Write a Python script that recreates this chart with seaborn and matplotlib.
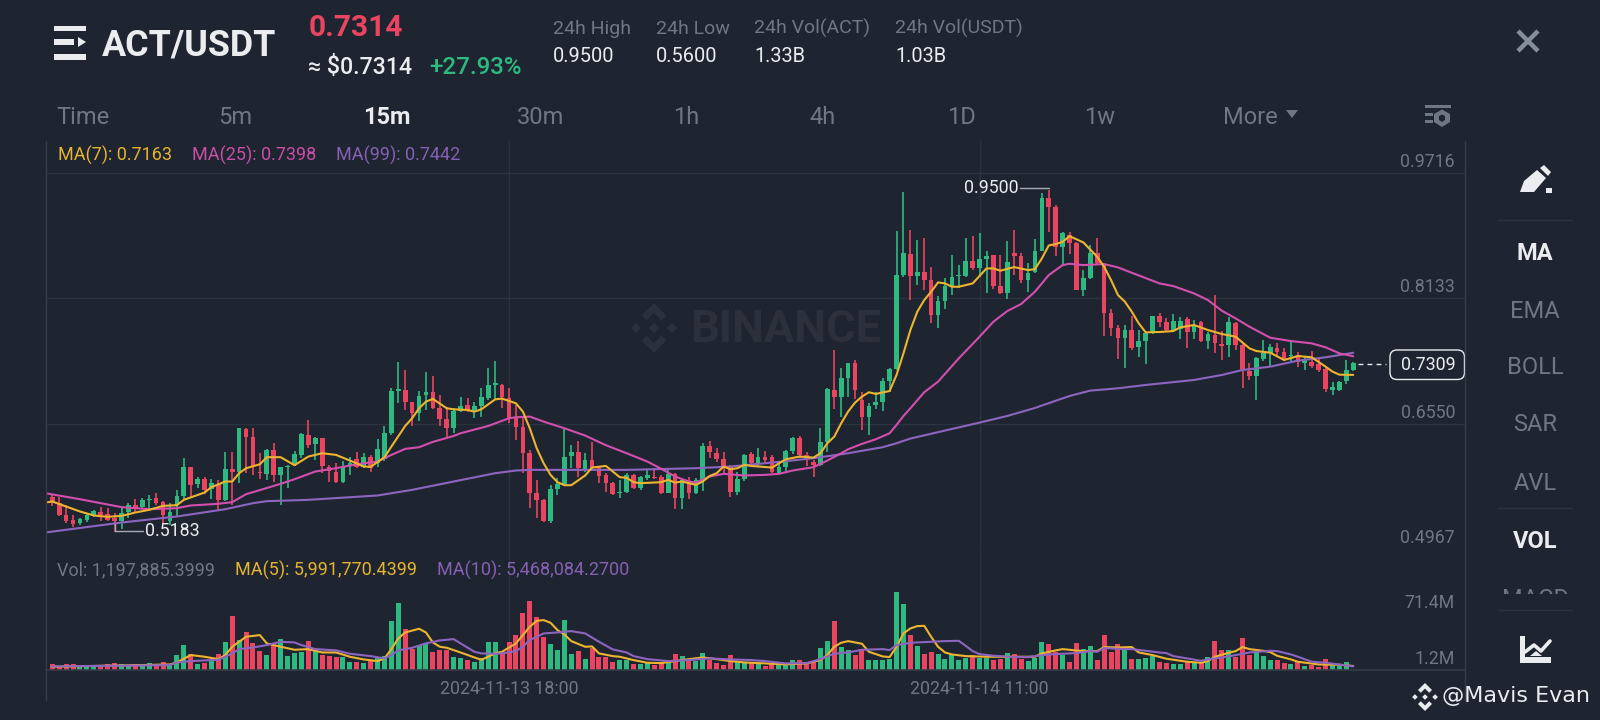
import numpy as np
import pandas as pd
import matplotlib
matplotlib.use("Agg")
import matplotlib.pyplot as plt
import seaborn as sns
from matplotlib.patches import Polygon, Rectangle, FancyBboxPatch

# Candles, 15m
sides = ("RRRRGGGRRR" "GGRGGRRGGG" "RGRGRGRGRR" "RGRGGGGRGR" "RRGGRGRGGG"
         "GRRGGRRRGG" "RGGGGRRRRR" "RRGGGGRGRR" "RRGGRGGRRG" "RGRGGRRRRG"
         "GRGRRGGGRR" "RGGRGGRRGG" "GGGGRGRRGG" "GGGRGGRRGR" "RGGGRRGRRG"
         "GRRRRGRGGG" "RRGGRGRGRR" "GRRRGGGRRG" "RGRRRGGGG")

high_p = [
    .5663, .5629, .5524, .5398, .5356, .5419, .5461, .5495, .5482, .5419,
    .5482, .5545, .5600, .5616, .5650, .5679, .5574, .5545, .5713, .6120,
    .6007, .5881, .5881, .5847, .5839, .6196, .6196, .6498, .6490, .6498,
    .6175, .6230, .6309, .6007, .6028, .6204, .6435, .6595, .6385, .6372,
    .6028, .6057, .6078, .6133, .6192, .6183, .6154, .6356, .6519, .7002,
    .7330, .7225, .6826, .6965, .7196, .7149, .6910, .6763, .6742, .6881,
    .6868, .6826, .6994, .7246, .7343, .7049, .6994, .6784, .6637, .6217,
    .5839, .5595, .5776, .5860, .6490, .6280, .6330, .6175, .6322, .6015,
    .5923, .5818, .5839, .5923, .5915, .5889, .5965, .5986, .5902, .5965,
    .5923, .5847, .5881, .5860, .6301, .6330, .6238, .6196, .6028, .5936,
    .6167, .6196, .6246, .6209, .6154, .6041, .6217, .6385, .6398, .6196,
    .6091, .6498, .6994, .7477, .7246, .7309, .7351, .6952, .6805, .6952,
    .7128, .7246, .8979, .9467, .8992, .8866, .8887, .8522, .8160, .8391,
    .8677, .8551, .8887, .8916, .8950, .8727, .8677, .8677, .8853, .8992,
    .8698, .8572, .8874, .9454, .9500, .9307, .8971, .8971, .8845, .8488,
    .8803, .8887, .8570, .7995, .7793, .7793, .7911, .7730, .7709, .7911,
    .7948, .7877, .7932, .7898, .7898, .7856, .7848, .7709, .8171, .7722,
    .7890, .7835, .7562, .7310, .7386, .7604, .7554, .7562, .7499, .7583,
    .7449, .7402, .7465, .7373, .7247, .7079, .7087, .7352, .7323]

body_top = [
    .5621, .5545, .5398, .5331, .5348, .5390, .5444, .5440, .5406, .5364,
    .5419, .5524, .5516, .5587, .5595, .5604, .5558, .5440, .5637, .6007,
    .6007, .5856, .5847, .5797, .5789, .5973, .5973, .6490, .6486, .6385,
    .5944, .6217, .6217, .6007, .6015, .6167, .6414, .6406, .6372, .6364,
    .6007, .5944, .6007, .6057, .6099, .6133, .6125, .6225, .6427, .6960,
    .6986, .6973, .6818, .6897, .6948, .6944, .6742, .6603, .6708, .6771,
    .6784, .6776, .6881, .7036, .7057, .7036, .6868, .6616, .6503, .6183,
    .5671, .5587, .5726, .5784, .6133, .6188, .6192, .6091, .6091, .5986,
    .5902, .5801, .5692, .5902, .5906, .5881, .5902, .5881, .5881, .5915,
    .5910, .5839, .5797, .5839, .6272, .6267, .6183, .6099, .6007, .5852,
    .6154, .6162, .6125, .6133, .6125, .5999, .6209, .6372, .6364, .6154,
    .6070, .6322, .6981, .6973, .7128, .7309, .7317, .6847, .6776, .6826,
    .7086, .7238, .8417, .8698, .8690, .8463, .8463, .8354, .8089, .8286,
    .8396, .8421, .8606, .8606, .8631, .8664, .8673, .8286, .8585, .8698,
    .8664, .8454, .8732, .9391, .9391, .9286, .8958, .8929, .8824, .8383,
    .8698, .8698, .8549, .7940, .7751, .7730, .7730, .7591, .7688, .7906,
    .7906, .7835, .7848, .7848, .7869, .7793, .7835, .7675, .7667, .7554,
    .7827, .7822, .7541, .7213, .7373, .7436, .7512, .7499, .7457, .7415,
    .7415, .7352, .7331, .7302, .7234, .7008, .7079, .7226, .7309]

body_bottom = [
    .5553, .5398, .5314, .5285, .5301, .5335, .5377, .5398, .5335, .5314,
    .5322, .5440, .5474, .5503, .5579, .5545, .5398, .5314, .5516, .5637,
    .5768, .5789, .5713, .5721, .5587, .5587, .5944, .5944, .6385, .6015,
    .5923, .5915, .5906, .5902, .5999, .6028, .6154, .6280, .6288, .6015,
    .5952, .5818, .5818, .6015, .6007, .6007, .5986, .6049, .6099, .6427,
    .6965, .6818, .6687, .6687, .6906, .6742, .6608, .6490, .6498, .6708,
    .6721, .6721, .6771, .6868, .7036, .6881, .6616, .6503, .6183, .5671,
    .5587, .5314, .5314, .5721, .5784, .6141, .5986, .5973, .5986, .5889,
    .5805, .5658, .5671, .5684, .5734, .5734, .5860, .5860, .5679, .5679,
    .5616, .5608, .5671, .5671, .5839, .6188, .6099, .6007, .5684, .5684,
    .5847, .6057, .6049, .6091, .5936, .5931, .5999, .6209, .6154, .6112,
    .6028, .6028, .6322, .6881, .6881, .7128, .6973, .6629, .6629, .6784,
    .6818, .7086, .7241, .8417, .8412, .8412, .8354, .7921, .7921, .8089,
    .8278, .8408, .8412, .8517, .8509, .8631, .8286, .8194, .8194, .8664,
    .8362, .8362, .8467, .8732, .9286, .8782, .8774, .8832, .8236, .8236,
    .8383, .8572, .7940, .7751, .7625, .7625, .7499, .7520, .7591, .7688,
    .7827, .7730, .7717, .7738, .7709, .7709, .7596, .7596, .7562, .7528,
    .7541, .7541, .7226, .7150, .7155, .7360, .7436, .7449, .7360, .7402,
    .7323, .7310, .7276, .7226, .6987, .6974, .6974, .7087, .7226]

low_p = [
    .5511, .5377, .5293, .5243, .5272, .5306, .5369, .5314, .5314, .5183,
    .5222, .5364, .5440, .5474, .5482, .5516, .5293, .5272, .5377, .5595,
    .5629, .5742, .5663, .5600, .5461, .5574, .5524, .5805, .5923, .5902,
    .5847, .5839, .5818, .5516, .5742, .6015, .6120, .6246, .6091, .5923,
    .5818, .5805, .5797, .5902, .5994, .5986, .5944, .6007, .6083, .6406,
    .6805, .6721, .6519, .6582, .6721, .6734, .6519, .6364, .6427, .6700,
    .6700, .6616, .6629, .6847, .6847, .6742, .6553, .6343, .5923, .5490,
    .5356, .5306, .5301, .5650, .5776, .5986, .5873, .5944, .5965, .5805,
    .5684, .5650, .5608, .5679, .5726, .5705, .5839, .5847, .5663, .5671,
    .5474, .5469, .5600, .5663, .5700, .6112, .6070, .5910, .5629, .5642,
    .5826, .6028, .6007, .6070, .5923, .5915, .5944, .6162, .6112, .6015,
    .5873, .6015, .6196, .6734, .6629, .6881, .6855, .6469, .6406, .6734,
    .6708, .6952, .7228, .8404, .8110, .8299, .8228, .7816, .7753, .7997,
    .8173, .8257, .8404, .8488, .8404, .8194, .8249, .8186, .8123, .8425,
    .8320, .8207, .8454, .8727, .8971, .8664, .8551, .8690, .8228, .8160,
    .8375, .8551, .7659, .7659, .7365, .7247, .7478, .7394, .7297, .7680,
    .7772, .7717, .7701, .7612, .7499, .7612, .7583, .7491, .7436, .7352,
    .7394, .7478, .7003, .7100, .6848, .7339, .7268, .7386, .7344, .7344,
    .7268, .7226, .7255, .7205, .6953, .6911, .6966, .7045, .7213]

# Volume in millions
volume = [
    7.9, 6.2, 7.9, 7.9, 5.4, 5.0, 4.6, 6.2, 8.8, 9.2,
    7.9, 7.1, 7.9, 7.1, 9.2, 7.1, 10.4, 8.8, 19.7, 31.9,
    20.5, 7.9, 10.0, 12.1, 21.4, 35.6, 68.4, 38.2, 49.1, 34.4,
    24.7, 19.7, 32.3, 39.4, 18.4, 22.2, 23.0, 37.3, 24.7, 19.7,
    18.8, 16.7, 17.2, 10.4, 11.3, 10.0, 12.5, 15.5, 18.4, 62.9,
    85.6, 52.0, 27.2, 32.3, 34.4, 23.0, 26.4, 26.4, 17.2, 15.5,
    13.0, 10.4, 15.5, 35.6, 35.6, 21.8, 36.5, 44.9, 73.0, 87.7,
    67.6, 41.9, 33.1, 26.0, 64.2, 20.9, 24.7, 14.2, 28.9, 16.7,
    16.7, 11.3, 13.8, 13.8, 8.8, 7.9, 10.4, 7.1, 9.2, 12.1,
    20.5, 18.0, 14.2, 12.1, 22.6, 13.8, 9.6, 7.1, 19.3, 12.1,
    9.2, 11.3, 10.0, 6.2, 7.9, 7.1, 7.9, 13.8, 13.4, 10.4,
    10.4, 28.5, 36.9, 62.5, 29.3, 26.0, 19.7, 27.2, 13.8, 13.4,
    13.8, 14.6, 99.5, 84.0, 44.9, 31.4, 21.4, 23.0, 21.4, 14.2,
    19.7, 13.8, 16.3, 19.7, 15.5, 16.3, 13.8, 14.6, 22.6, 21.4,
    14.2, 12.1, 15.5, 36.5, 33.1, 23.0, 19.7, 11.3, 34.4, 26.8,
    31.4, 13.4, 44.5, 23.9, 33.5, 27.2, 14.6, 14.2, 16.3, 18.4,
    11.3, 9.2, 8.8, 8.3, 12.1, 10.4, 10.0, 16.7, 37.7, 25.6,
    26.0, 17.2, 41.1, 19.7, 23.0, 18.4, 13.4, 13.4, 9.2, 8.3,
    10.4, 6.2, 7.1, 5.0, 14.2, 8.3, 5.8, 11.3, 1.2]

# Moving averages, read at the candles where the curve turns
ma7_idx = [0, 1, 3, 5, 7, 9, 11, 13, 15, 17, 19, 20, 23, 24, 26, 27, 28, 29, 31, 32,
           34, 36, 38, 40, 42, 44, 46, 47, 49, 50, 52, 53, 54, 55, 56, 58, 59, 61, 62, 63,
           65, 66, 68, 69, 70, 71, 72, 73, 74, 75, 76, 78, 79, 81, 83, 84, 85, 86, 89, 90,
           91, 92, 94, 95, 96, 97, 98, 99, 100, 101, 102, 105, 107, 109, 111, 112, 113, 114, 115, 116,
           117, 118, 119, 120, 122, 123, 124, 125, 126, 127, 128, 129, 130, 131, 132, 134, 136, 137, 138, 140,
           142, 143, 144, 145, 146, 147, 148, 150, 152, 153, 154, 155, 156, 157, 158, 159, 161, 163, 164, 166,
           168, 170, 172, 174, 175, 177, 179, 181, 183, 185, 186, 187, 189]
ma7 = [.5553, .5566, .5503, .5440, .5390, .5373, .5385, .5427, .5461, .5511, .5520, .5587, .5679, .5747, .5818, .5818, .5923, .5986, .6036, .6125,
       .6125, .6024, .6133, .6175, .6154, .6083, .6007, .6003, .6125, .6259, .6519, .6616, .6742, .6826, .6860, .6742, .6729, .6721, .6700, .6729,
       .6855, .6864, .6805, .6700, .6490, .6238, .6049, .5902, .5810, .5772, .5772, .5894, .5994, .6015, .5873, .5864, .5810, .5797, .5810, .5839,
       .5805, .5818, .5776, .5818, .5889, .5923, .6007, .5973, .5986, .6028, .6015, .5994, .6099, .6133, .6120, .6175, .6301, .6385, .6553, .6700,
       .6813, .6889, .6944, .6923, .6960, .7162, .7435, .7729, .7960, .8107, .8212, .8330, .8317, .8275, .8275, .8317, .8506, .8506, .8477, .8523,
       .8485, .8498, .8632, .8796, .8813, .8842, .8913, .8834, .8653, .8527, .8359, .8170, .8086, .7960, .7813, .7700, .7704, .7716, .7763, .7792,
       .7729, .7679, .7645, .7498, .7464, .7443, .7351, .7401, .7385, .7267, .7204, .7166, .7163]

ma25_idx = [0, 5, 11, 15, 19, 21, 25, 27, 29, 34, 36, 39, 42, 45, 48, 50, 52, 54, 56, 59,
            60, 64, 67, 68, 70, 72, 75, 78, 81, 84, 87, 89, 91, 93, 94, 96, 98, 101, 104, 106,
            108, 111, 113, 115, 116, 118, 120, 122, 123, 124, 125, 127, 129, 132, 135, 137, 139, 141, 143, 145,
            147, 148, 150, 153, 155, 156, 161, 163, 166, 168, 170, 172, 174, 177, 180, 183, 185, 187, 189]
ma25 = [.5671, .5595, .5495, .5469, .5482, .5516, .5537, .5558, .5658, .5789, .5847, .5944, .5986, .6036, .6070, .6154, .6230, .6251, .6318, .6393,
        .6427, .6519, .6616, .6629, .6637, .6574, .6490, .6398, .6276, .6175, .6070, .5978, .5881, .5818, .5805, .5881, .5915, .5894, .5902, .5915,
        .5957, .5999, .6083, .6175, .6225, .6293, .6351, .6427, .6532, .6645, .6742, .6944, .7078, .7372, .7645, .7834, .7968, .8057, .8212, .8422,
        .8548, .8565, .8548, .8561, .8519, .8485, .8317, .8283, .8191, .8107, .7973, .7876, .7771, .7632, .7590, .7561, .7511, .7435, .7398]

ma99_idx = [0, 11, 19, 26, 30, 32, 38, 48, 53, 59, 65, 68, 70, 84, 94, 99, 106, 111, 116, 121,
            123, 125, 130, 135, 139, 143, 148, 151, 155, 159, 166, 170, 173, 177, 181, 185, 189]
ma99 = [.5175, .5301, .5377, .5469, .5545, .5570, .5587, .5642, .5713, .5818, .5923, .5957, .5965, .5965, .5986, .6007, .6066, .6112, .6175, .6251,
        .6301, .6360, .6461, .6561, .6645, .6746, .6897, .6965, .6994, .7036, .7099, .7162, .7225, .7267, .7343, .7385, .7442]

vol_ma5_idx = [1, 8, 14, 18, 19, 21, 23, 25, 26, 27, 29, 31, 32, 34, 36, 38, 40, 42, 44, 46,
               48, 49, 50, 51, 52, 54, 55, 56, 57, 58, 60, 62, 63, 64, 65, 66, 68, 70, 71, 72,
               73, 74, 75, 76, 78, 79, 80, 82, 83, 85, 87, 89, 91, 93, 95, 97, 99, 101, 104, 107,
               110, 112, 113, 114, 115, 116, 118, 119, 121, 122, 123, 124, 125, 126, 127, 128, 129, 130, 131, 133,
               136, 139, 141, 143, 144, 146, 147, 150, 152, 153, 155, 157, 158, 160, 162, 165, 167, 168, 169, 171,
               172, 173, 174, 176, 177, 178, 180, 181, 184, 187, 189]
vol_ma5 = [5.0, 6.2, 7.1, 7.9, 10.4, 19.7, 17.6, 14.6, 19.7, 30.2, 42.8, 44.9, 34.4, 30.2, 26.4, 27.2, 23.0, 23.0, 17.6, 14.2,
           12.1, 15.5, 27.2, 40.7, 48.2, 52.9, 48.2, 35.6, 30.2, 28.9, 23.0, 16.7, 13.8, 17.6, 21.8, 23.9, 34.4, 55.4, 62.9, 63.8,
           60.4, 51.2, 45.7, 37.3, 30.2, 30.6, 21.8, 18.4, 17.6, 13.4, 10.0, 9.6, 12.1, 14.6, 16.7, 14.6, 12.1, 10.4, 9.2, 7.9,
           9.2, 13.4, 19.7, 30.2, 35.2, 37.3, 34.0, 23.9, 18.0, 17.2, 30.2, 47.0, 53.3, 56.2, 56.6, 42.8, 30.2, 23.0, 20.5, 18.4,
           17.6, 17.6, 17.6, 17.6, 21.8, 25.6, 27.2, 24.7, 24.7, 29.8, 29.3, 29.8, 23.0, 19.7, 15.1, 11.3, 10.0, 12.1, 17.6, 22.6,
           24.7, 29.8, 27.2, 25.1, 23.5, 18.8, 14.2, 11.3, 7.9, 7.5, 6.0]

vol_ma10_idx = [1, 10, 18, 19, 21, 25, 26, 27, 28, 30, 32, 34, 36, 37, 39, 42, 44, 47, 49, 50,
                51, 53, 55, 57, 59, 60, 62, 63, 65, 66, 68, 69, 70, 72, 74, 76, 78, 80, 82, 84,
                85, 87, 90, 93, 96, 99, 102, 104, 107, 110, 112, 114, 116, 118, 121, 122, 123, 125, 128, 130,
                132, 133, 134, 135, 137, 140, 142, 143, 145, 147, 149, 151, 152, 153, 156, 157, 159, 161, 162, 163,
                165, 167, 168, 170, 172, 174, 177, 178, 180, 181, 183, 185, 189]
vol_ma10 = [5.4, 6.2, 7.1, 10.4, 12.1, 13.8, 17.6, 21.8, 27.2, 29.3, 32.3, 36.5, 35.6, 32.3, 27.2, 25.6, 21.4, 18.4, 15.5, 19.7,
            25.6, 28.9, 34.4, 38.2, 39.8, 34.4, 23.9, 21.8, 21.4, 21.8, 24.7, 30.2, 38.6, 47.0, 48.2, 49.9, 47.0, 36.5, 26.8, 23.0,
            18.4, 14.6, 12.1, 13.4, 15.5, 14.2, 13.4, 12.1, 9.2, 9.6, 14.6, 21.4, 23.0, 26.4, 27.2, 26.0, 32.3, 35.2, 36.5, 37.3,
            37.7, 31.4, 24.7, 20.9, 18.8, 17.2, 17.2, 18.4, 20.5, 21.4, 22.2, 24.7, 23.9, 28.5, 27.2, 27.2, 25.1, 23.0, 22.2, 18.4,
            15.5, 12.5, 14.2, 16.7, 19.7, 23.0, 25.1, 24.7, 20.5, 17.6, 11.3, 10.0, 5.5]

price_ticks = [0.9716, 0.8133, 0.6550, 0.4967]
volume_ticks = [71.4, 1.2]
date_ticks = [67, 135]
date_labels = ["2024-11-13 18:00", "2024-11-14 11:00"]
timeframes = ["Time", "5m", "15m", "30m", "1h", "4h", "1D", "1w", "More"]
stat_names = ["24h High", "24h Low", "24h Vol(ACT)", "24h Vol(USDT)"]
stat_values = ["0.9500", "0.5600", "1.33B", "1.03B"]
indicators = ["MA", "EMA", "BOLL", "SAR", "AVL", "VOL"]

BG = "#1E2530"
GRID = "#2B3240"
FRAME = "#363D4A"
GREY = "#707784"
WHITE = "#EAECEF"
RED = "#EA4560"
GREEN = "#2EB981"
YELLOW = "#EDB52F"
PINK = "#D34FAE"
PURPLE = "#8D65C0"

sns.set_theme(style="dark", rc={"figure.facecolor": BG, "axes.facecolor": BG, "savefig.facecolor": BG})
plt.rcParams["font.family"] = ["Roboto", "DejaVu Sans"]

W, H = 1600, 720
fig = plt.figure(figsize=(W / 100, H / 100), dpi=100)


def box(left, top, right, bottom):
    return [left / W, 1 - bottom / H, (right - left) / W, (bottom - top) / H]


ax = fig.add_axes(box(46, 141, 1465, 549))
ax_v = fig.add_axes(box(46, 549, 1465, 670), sharex=ax)

candles = pd.DataFrame({
    "idx": np.arange(1, len(high_p) + 1),
    "high": high_p, "low": low_p, "top": body_top, "bottom": body_bottom,
    "side": list(sides), "volume": volume,
})
colors = candles["side"].map({"R": RED, "G": GREEN})
palette = {"R": RED, "G": GREEN}

# price panel
ax.vlines(candles["idx"], candles["low"], candles["high"], colors=colors, lw=1.2, zorder=3)
ax.bar(candles["idx"], candles["top"] - candles["bottom"], bottom=candles["bottom"],
       width=0.68, color=colors, linewidth=0, zorder=3)
for idx, vals, color in [(ma99_idx, ma99, PURPLE), (ma25_idx, ma25, PINK), (ma7_idx, ma7, YELLOW)]:
    sns.lineplot(x=idx, y=vals, ax=ax, color=color, lw=1.5, estimator=None, sort=False, zorder=4)

# volume panel
sns.barplot(data=candles, x="idx", y="volume", hue="side", palette=palette, native_scale=True,
            dodge=False, width=0.72, legend=False, ax=ax_v, zorder=3, saturation=1, linewidth=0)
for idx, vals, color in [(vol_ma5_idx, vol_ma5, YELLOW), (vol_ma10_idx, vol_ma10, PURPLE)]:
    sns.lineplot(x=idx, y=vals, ax=ax_v, color=color, lw=1.5, estimator=None, sort=False, zorder=4)

ax.set_ylim(0.4967, 0.9716 + 31.5 * 0.0012614)
ax_v.set_ylim(0.9, 153.4)
x_left = 1 - 6.3 / 6.92
x_right = 1 + (1465 - 52.3) / 6.92
ax_v.set_xlim(x_left, x_right)

for a in (ax, ax_v):
    a.set_xlabel("")
    a.set_ylabel("")
    a.set_facecolor(BG)
    a.patch.set_alpha(0)
    for s in a.spines.values():
        s.set_visible(False)
    for d in date_ticks:
        a.axvline(d, color=GRID, lw=1, zorder=1)

ax.set_yticks(price_ticks)
ax.tick_params(left=False, bottom=False, labelleft=False, labelbottom=False)
ax.grid(axis="y", color=GRID, lw=1)
ax.grid(axis="x", visible=False)
ax_v.set_yticks([])
ax_v.grid(False)
ax_v.set_xticks(date_ticks)
ax_v.set_xticklabels(date_labels, color=GREY, fontsize=12.8)
ax_v.tick_params(axis="x", length=0, pad=7)

for p in price_ticks:
    ax.annotate(f"{p:.4f}", xy=(1, p), xycoords=ax.get_yaxis_transform(), xytext=(-7.2, 7.8),
                textcoords="offset points", ha="right", va="center", color=GREY, fontsize=12.8)
for v in volume_ticks:
    ax_v.annotate(f"{v}M", xy=(1, v), xycoords=ax_v.get_yaxis_transform(), xytext=(-7.2, 7.8),
                  textcoords="offset points", ha="right", va="center", color=GREY, fontsize=12.8)

# everything else sits on a full figure layer in pixel coordinates
ui = fig.add_axes([0, 0, 1, 1], zorder=10)
ui.set_xlim(0, W)
ui.set_ylim(H, 0)
ui.axis("off")


def label(x, y, s, color=GREY, size=12.8, weight="normal", ha="left", **kw):
    # va=center sits a little high for these fonts
    return ui.text(x, y + 2, s, color=color, fontsize=size, fontweight=weight, ha=ha, va="center", **kw)


def rect(x0, y0, x1, y1, color):
    ui.add_patch(Rectangle((x0, y0), x1 - x0, y1 - y0, color=color, lw=0))


def poly(points, color):
    ui.add_patch(Polygon(points, closed=True, color=color, lw=0))


def logo(cx, cy, s, color):
    # square-on-point pieces of the exchange mark
    def diamond(x, y, r):
        poly([(x - r, y), (x, y - r), (x + r, y), (x, y + r)], color)
    diamond(cx, cy, 0.2 * s)
    diamond(cx - 0.72 * s, cy, 0.2 * s)
    diamond(cx + 0.72 * s, cy, 0.2 * s)
    poly([(cx, cy - s), (cx + 0.5 * s, cy - 0.5 * s), (cx + 0.3 * s, cy - 0.3 * s), (cx, cy - 0.6 * s),
          (cx - 0.3 * s, cy - 0.3 * s), (cx - 0.5 * s, cy - 0.5 * s)], color)
    poly([(cx, cy + s), (cx + 0.5 * s, cy + 0.5 * s), (cx + 0.3 * s, cy + 0.3 * s), (cx, cy + 0.6 * s),
          (cx - 0.3 * s, cy + 0.3 * s), (cx - 0.5 * s, cy + 0.5 * s)], color)


# frame lines
ui.plot([46, 46], [141, 700], color=FRAME, lw=1)
ui.plot([1465, 1465], [141, 700], color=FRAME, lw=1)
ui.plot([46, 1465], [670, 670], color=FRAME, lw=1.2)

# header
rect(54, 26, 86, 31, WHITE)
rect(54, 39, 74, 45, WHITE)
rect(54, 54, 86, 60, WHITE)
poly([(78, 37), (86, 42), (78, 47)], WHITE)
label(102, 43, "ACT/USDT", WHITE, 25.8, "bold")
label(309, 26, "0.7314", RED, 21.5, "bold")
label(308, 66, "≈ $0.7314", WHITE, 16.7, "medium")
label(429, 66, "+27.93%", GREEN, 17.3, "medium")
for x, name, val in zip([553, 656, 754, 895], stat_names, stat_values):
    label(x, 26.5, name, GREY, 14)
    label(x, 55, val, WHITE, 14.4)
ui.plot([1518, 1538], [31, 51], color="#848E9C", lw=3.2, solid_capstyle="butt")
ui.plot([1538, 1518], [31, 51], color="#848E9C", lw=3.2, solid_capstyle="butt")

# timeframe row
for x, name in zip([56, 218, 363, 517, 673, 809, 947, 1084, 1223], timeframes):
    if name == "15m":
        label(x, 115, name, WHITE, 17, "bold")
    else:
        label(x, 115, name, GREY, 17)
poly([(1286, 110), (1298, 110), (1292, 118)], GREY)
rect(1425, 105, 1451, 108, GREY)
rect(1425, 113, 1433, 116, GREY)
rect(1425, 120, 1433, 123, GREY)
poly([(1434, 114), (1442, 109.5), (1450, 114), (1450, 122), (1442, 127), (1434, 122)], GREY)
poly([(1439, 116), (1442, 114.5), (1445, 116), (1445, 120), (1442, 122), (1439, 120)], BG)

# legends
label(58, 153, "MA(7): 0.7163", "#E5B32F", 13)
label(192, 153, "MA(25): 0.7398", "#C94EA6", 13)
label(336, 153, "MA(99): 0.7442", "#8560B4", 13)
label(57, 568, "Vol: 1,197,885.3999", GREY, 13)
label(235, 568, "MA(5): 5,991,770.4399", "#E5B32F", 13)
label(437, 568, "MA(10): 5,468,084.2700", "#8560B4", 13)

# high / low markers
label(964, 186, "0.9500", WHITE, 12.8)
ui.plot([1020, 1049], [188, 188], color="#A8ADB5", lw=1)
label(145, 529, "0.5183", WHITE, 12.8)
ui.plot([115, 143], [531, 531], color="#A8ADB5", lw=1)
ui.plot([115, 115], [524, 531], color="#A8ADB5", lw=1)

# last price tag
ui.plot([1358, 1386], [364, 364], color=WHITE, lw=1, ls=(0, (3.5, 3)))
ui.add_patch(FancyBboxPatch((1390, 350), 74.5, 29.5, boxstyle="round,pad=0,rounding_size=7",
                            facecolor=BG, edgecolor=WHITE, lw=1))
label(1428, 363, "0.7309", WHITE, 12.8, ha="center")

# background mark
logo(654, 328, 25, "#2B303B")
ui.text(690, 330, "BINANCE", color="#2B303B", fontsize=32.5, fontweight="bold", ha="left", va="center", zorder=0)

# right side tool column
for y, name in zip([251, 309, 366, 422.5, 481, 540], indicators):
    if name in ("MA", "VOL"):
        label(1535, y, name, WHITE, 17, "bold", ha="center")
    else:
        label(1535, y, name, GREY, 17, ha="center")
t = label(1535, 597, "MACD", GREY, 17, ha="center")
t.set_clip_on(True)
t.set_clip_path(Rectangle((1490, 570), 90, 24, transform=ui.transData))
for y in [220, 508, 610]:
    ui.plot([1498, 1572], [y, y], color=GRID, lw=1)
# pencil icon
poly([(1520, 192), (1524, 181), (1537, 170), (1546, 178), (1534, 192)], WHITE)
poly([(1540, 168), (1544, 165), (1551, 172), (1548, 176)], WHITE)
rect(1546, 188, 1552, 193, WHITE)
# chart icon
rect(1520, 636, 1525, 663, WHITE)
rect(1520, 657, 1551, 663, WHITE)
ui.plot([1525, 1534, 1541, 1550], [652, 645, 651, 641], color=WHITE, lw=2.6)
poly([(1530, 656), (1536, 651), (1542, 656)], WHITE)

# screenshot credit
logo(1425, 697, 14, WHITE)
ui.text(1442, 696, "@Mavis Evan", color=WHITE, fontsize=16, ha="left", va="center", family="DejaVu Sans")

fig.savefig("out.png", dpi=100)
